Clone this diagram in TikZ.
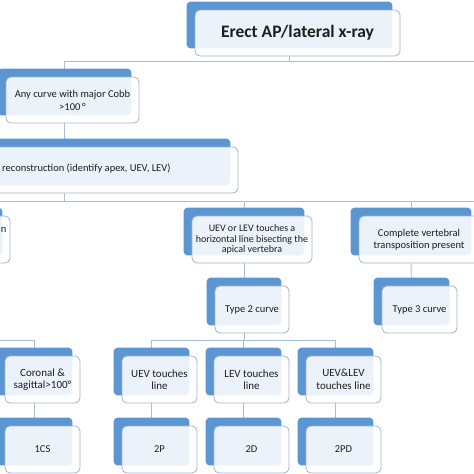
\documentclass[tikz,border=0pt]{standalone}
\usepackage{fontspec}
\setmainfont{Carlito}
\definecolor{boxblue}{HTML}{5B96D2}
\definecolor{edgec}{HTML}{A2B4C8}
\definecolor{linec}{HTML}{A9BED4}
\definecolor{txtc}{HTML}{1E1E1E}
\pgfdeclarelayer{bg}
\pgfdeclarelayer{lines}
\pgfdeclarelayer{backs}
\pgfsetlayers{bg,lines,backs,main}
\newcommand\cbx[7][]{%
  \node[frontbox, minimum width=#5pt, minimum height=#6pt, #1] (#2) at (#3,#4) {#7};
  \begin{pgfonlayer}{backs}
    \fill[backbox] ([xshift=-8pt,yshift=8pt]#2.north west) rectangle ([xshift=-8pt,yshift=8pt]#2.south east);
  \end{pgfonlayer}}
\begin{document}
\begin{tikzpicture}[x=1pt,y=-1pt,
  conn/.style={draw=linec, line width=0.9pt},
  backbox/.style={fill=boxblue, rounded corners=4pt},
  frontbox/.style={draw=edgec, line width=0.8pt, fill=white, fill opacity=0.88, text opacity=1,
    rounded corners=5pt, inner sep=1pt, align=center, text=txtc,
    font=\fontsize{10.5}{13}\selectfont},
  lbl/.style={text=txtc, inner sep=0pt, font=\fontsize{10.5}{13}\selectfont}]
\useasboundingbox (0,0) rectangle (474,474);
\begin{pgfonlayer}{bg}
  \fill[white] (0,0) rectangle (474,474);
\end{pgfonlayer}

\cbx[font=\fontsize{17.5}{20}\selectfont\bfseries]{top}{297.5}{33}{205}{46}{Erect AP/lateral x-ray}
\cbx{any}{72.5}{100}{133}{46}{Any curve with major Cobb\\>100\,°}
\cbx{recon}{72.5}{170}{331}{46}{}
\node[lbl, anchor=west] (recontxt) at (2,169) {reconstruction (identify apex, UEV, LEV)};

\cbx{leftcut}{-50}{239.5}{120}{47}{}
\node[lbl, anchor=east] (ntxt) at (6.5,229.5) {n};
\cbx[font=\fontsize{10}{10.5}\selectfont]{uevlev}{252}{239.5}{120}{47}{UEV or LEV touches a\\horizontal line bisecting the\\apical vertebra}
\cbx[font=\fontsize{10.5}{12}\selectfont]{complete}{419}{239.5}{120}{47}{Complete vertebral\\transposition present}

\cbx{type2}{252}{309.5}{74}{47}{Type 2 curve}
\cbx{type3}{419.5}{309.5}{75}{47}{Type 3 curve}

\cbx[font=\fontsize{11}{12.5}\selectfont]{coronal}{42.5}{379.5}{75}{47}{Coronal \&\\sagittal>100°}
\cbx[font=\fontsize{11}{12.5}\selectfont]{uevt}{159.5}{379.5}{75}{47}{UEV touches\\line}
\cbx[font=\fontsize{11}{12.5}\selectfont]{levt}{251.5}{379.5}{75}{47}{LEV touches\\line}
\cbx[font=\fontsize{11}{12.5}\selectfont]{both}{343.5}{379.5}{75}{47}{UEV\&LEV\\touches line}

\cbx{csone}{42.5}{449.5}{75}{47}{1CS}
\cbx{ptwo}{159.5}{449.5}{75}{47}{2P}
\cbx{dtwo}{251.5}{449.5}{75}{47}{2D}
\cbx{pdtwo}{343.5}{449.5}{75}{47}{2PD}

\begin{pgfonlayer}{lines}
  \draw[conn] ([xshift=-8pt]top.south) -- ++(0,5) coordinate (busa) -| ([xshift=-8pt]any.north);
  \draw[conn] (busa) -- ++(250,0);
  \draw[conn] ([xshift=-8pt]any.south) -- ([xshift=-8pt]recon.north);
  \draw[conn] ([xshift=-8pt]recon.south) -- ++(0,8) coordinate (busb);
  \draw[conn] ([xshift=-8pt]leftcut.north) |- (busb) -- ++(450,0);
  \draw[conn] ([xshift=-8pt]uevlev.north) -- ([xshift=-8pt]uevlev.north |- busb);
  \draw[conn] ([xshift=-8pt]complete.north) -- ([xshift=-8pt]complete.north |- busb);
  \draw[conn] ([xshift=-8pt]uevlev.south) -- ([xshift=-8pt]type2.north);
  \draw[conn] ([xshift=-8pt]complete.south) -- ([xshift=-8pt]type3.north);
  \draw[conn] ([xshift=-8pt]type2.south) -- ++(0,7) coordinate (busc);
  \draw[conn] ([xshift=-8pt]uevt.north) |- ([xshift=-8pt]both.north |- busc) -- ([xshift=-8pt]both.north);
  \draw[conn] ([xshift=-8pt]levt.north) -- ([xshift=-8pt]levt.north |- busc);
  \coordinate (busd) at (-20,340);
  \draw[conn] (busd) -| ([xshift=-8pt]coronal.north);
  \draw[conn] ([xshift=-8pt]coronal.south) -- ([xshift=-8pt]csone.north);
  \draw[conn] ([xshift=-8pt]uevt.south) -- ([xshift=-8pt]ptwo.north);
  \draw[conn] ([xshift=-8pt]levt.south) -- ([xshift=-8pt]dtwo.north);
  \draw[conn] ([xshift=-8pt]both.south) -- ([xshift=-8pt]pdtwo.north);
\end{pgfonlayer}
\end{tikzpicture}
\end{document}
